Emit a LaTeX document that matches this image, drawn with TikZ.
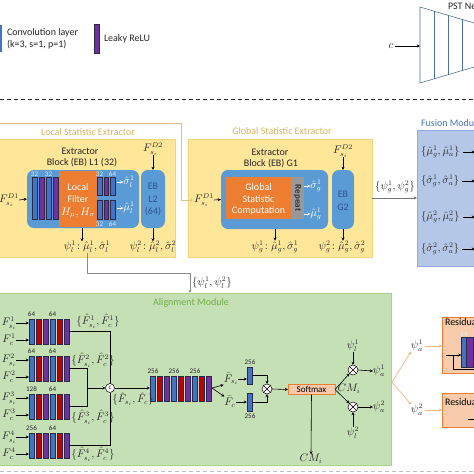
\documentclass[tikz,border=0pt]{standalone}
\usepackage{fontspec}
\setmainfont{Carlito}
\usetikzlibrary{arrows.meta,calc}
\definecolor{ylw}{HTML}{FFE699}
\definecolor{ylwborder}{HTML}{F2D27A}
\definecolor{ylwtitle}{HTML}{D9B35E}
\definecolor{ylwline}{HTML}{DDBF80}
\definecolor{ebblue}{HTML}{5B9BD5}
\definecolor{ebtxt}{HTML}{2E5395}
\definecolor{barB}{HTML}{4472C4}
\definecolor{barP}{HTML}{7030A0}
\definecolor{barR}{HTML}{C00000}
\definecolor{barline}{HTML}{2A2A4A}
\definecolor{corange}{HTML}{ED7D31}
\definecolor{lorange}{HTML}{F8CBAD}
\definecolor{lorline}{HTML}{F4B183}
\definecolor{fusfill}{HTML}{B4C7E7}
\definecolor{fusline}{HTML}{8FAADC}
\definecolor{fustitle}{HTML}{4472C4}
\definecolor{grnfill}{HTML}{C5E0B4}
\definecolor{grnline}{HTML}{A9D18E}
\definecolor{grntitle}{HTML}{70AD47}
\definecolor{txt}{HTML}{262626}
\definecolor{pstline}{HTML}{4F6FA8}
\definecolor{lighttxt}{HTML}{DDEBF7}
\newcommand{\myfs}[1]{\fontsize{#1}{#1}\selectfont}
\newcommand{\convrow}[3]{%
  \foreach \c [count=\k from 0] in {B,R,P,B,R,P}{%
    \draw[fill=bar\c, draw=barline, line width=0.4pt] ({#1+7*\k},#2) rectangle ++(5,#3);}}
\begin{document}
\begin{tikzpicture}[x=1pt,y=-1pt,
  every node/.style={inner sep=0pt,outer sep=0pt,text=txt,font=\myfs{10}},
  mth/.style={font=\myfs{10.5}},
  tip/.style={-{Stealth[length=3.2pt,width=3pt]}},
  conn/.style={draw=black,line width=0.6pt,tip},
  wconn/.style={draw=white,line width=0.6pt,tip},
  ylwbox/.style={fill=ylw,draw=ylwborder,line width=0.5pt},
  ebbox/.style={fill=ebblue,rounded corners=7pt},
  orbox/.style={fill=corange},
  small/.style={font=\myfs{7}},
  otimes/.style={circle,draw=black,fill=white,line width=0.5pt,minimum size=10pt,
    path picture={\draw[line width=0.5pt] (path picture bounding box.north west)--(path picture bounding box.south east)
      (path picture bounding box.north east)--(path picture bounding box.south west);}},
  bluebar/.style={fill=barB,draw=barline,line width=0.4pt}
]
\useasboundingbox (0,0) rectangle (474,474);
\clip (0,0) rectangle (474,474);

% ---------------- legend
\fill[barB] (-1,25) rectangle (2,52);
\node[anchor=west] (convl) at (7,33) {Convolution layer};
\node[anchor=west] (convp) at (7,45) {(k=3, s=1, p=1)};
\draw[fill=barP,draw=barline,line width=0.4pt] (94,24) rectangle (99,53);
\node[anchor=west] (relu) at (104,39) {Leaky ReLU};

% ---------------- PST network
\draw[pstline,line width=0.6pt] (500,30.7) -- (420,7) -- (420,83) -- (500,59.3);
\draw[pstline,line width=0.6pt] (434,11.1) -- (434,78.9) (448,15.3) -- (448,74.7) (462,19.4) -- (462,70.6);
\node[anchor=west] (pst) at (448,6) {PST Network};
\node[mth] (c) at (391,46) {$c$};
\coordinate (pstin) at (420,46);
\draw[conn] (c.east) ++(2,0) -- (pstin);

% separators
\draw[black!85,line width=0.8pt,dash pattern=on 4pt off 3pt] (0,99.5) -- (474,99.5);
\draw[black!25,line width=1.3pt,dash pattern=on 4pt off 3pt] (0,471.5) -- (474,471.5);

% ---------------- Local statistic extractor
\node[text=ylwtitle] (ltitle) at (88,132) {Local Statistic Extractor};
\node[ylwbox,anchor=north west,minimum width=178pt,minimum height=118pt] (lbox) at (-3,139) {};
\node (lext) at (80,151) {Extractor};
\node (lblk) at (82,163) {Block (EB) L1 (32)};
\node[ebbox,minimum width=112pt,minimum height=58pt] (eb1) at (83,199) {};
\foreach \x/\c in {32/B,39/P,46/B,53/P}{\draw[fill=bar\c,draw=barline,line width=0.4pt] (\x,177.5) rectangle ++(5,42);}
\node[small,text=lighttxt] (l32a) at (34.5,174) {32};
\node[small,text=lighttxt] (l32b) at (48.5,174) {32};
\node[orbox,minimum width=38pt,minimum height=56pt] (lf) at (78,199) {};
\node[text=white] (lf1) at (78,187) {Local};
\node[text=white] (lf2) at (78,199) {Filter};
\node[text=white,mth] (lf3) at (78,213) {$H_\mu, H_\sigma$};
\foreach \y/\h in {177.5/18,200/19}{
  \draw[bluebar] (97,\y) rectangle ++(5,\h);
  \draw[fill=barP,draw=barline,line width=0.4pt] (104,\y) rectangle ++(4,\h);
  \draw[bluebar] (110,\y) rectangle ++(5,\h);}
\node[small,text=lighttxt] (l32c) at (99.5,174) {32};
\node[small,text=lighttxt] (l64c) at (112.5,174) {64};
\node[small,text=lighttxt] (l32d) at (99.5,224) {32};
\node[small,text=lighttxt] (l64d) at (112.5,224) {64};
\node[text=white,mth] (sl1) at (129,182) {$\hat\sigma_l^1$};
\node[text=white,mth] (ml1) at (129,208) {$\hat\mu_l^1$};
\draw[wconn] (116.5,182) -- (sl1.west);
\draw[wconn] (116.5,208) -- (ml1.west);
\node[ebbox,minimum width=24pt,minimum height=58pt] (eb2) at (153,199) {};
\node[text=ebtxt] (eb2a) at (153,186) {EB};
\node[text=ebtxt] (eb2b) at (153,199) {L2};
\node[text=ebtxt] (eb2c) at (153,212) {(64)};
\node[mth] (lFd1) at (9,200) {$F_{s_i}^{D1}$};
\draw[conn] (lFd1.east) -- (eb1.west);
\node[mth] (lFd2) at (153,149) {$F_{s_i}^{D2}$};
\draw[conn] (lFd2.south) -- (eb2.north);
\node[mth] (psil1) at (87,247) {$\psi_l^1\!:\hat\mu_l^1,\hat\sigma_l^1$};
\node[mth] (psil2) at (153,247) {$\psi_l^2\!:\hat\mu_l^2,\hat\sigma_l^2$};
\draw[conn] (eb1.south -| psil1.north) ++(-5,0) coordinate (e1s) -- (e1s |- psil1.north);
\draw[conn] (eb2.south) -- (eb2.south |- psil2.north);

% ---------------- Global statistic extractor
\node[text=ylwtitle] (gtitle) at (282,131) {Global Statistic Extractor};
\node[ylwbox,anchor=north west,minimum width=184pt,minimum height=118pt] (gbox) at (188,139) {};
\node (gext) at (270,152) {Extractor};
\node (gblk) at (271,164) {Block (EB) G1};
\node[ebbox,minimum width=107pt,minimum height=59pt] (geb1) at (274.5,199.5) {};
\node[orbox,minimum width=65pt,minimum height=42pt] (gsc) at (258.5,198) {};
\node[text=white] (gsc1) at (258.5,187) {Global};
\node[text=white] (gsc2) at (258.5,199) {Statistic};
\node[text=white] (gsc3) at (258.5,211) {Computation};
\node[fill=black!40,minimum width=13pt,minimum height=42pt] (rep) at (297.5,198) {};
\node[rotate=-90,font=\myfs{9}\bfseries,text=black!80] (rept) at (297.5,198) {Repeat};
\node[text=white,mth] (sg1) at (316,186) {$\hat\sigma_g^1$};
\node[text=white,mth] (mg1) at (316,214) {$\hat\mu_g^1$};
\draw[wconn] (rep.east |- sg1) -- (sg1.west);
\draw[wconn] (rep.east |- mg1) -- (mg1.west);
\node[ebbox,minimum width=22pt,minimum height=59pt] (geb2) at (343,199.5) {};
\node[text=ebtxt] (geb2a) at (343,194) {EB};
\node[text=ebtxt] (geb2b) at (343,207) {G2};
\node[mth] (gFd1) at (204,200) {$F_{s_i}^{D1}$};
\draw[conn] (gFd1.east) -- (geb1.west);
\node[mth] (gFd2) at (343,151) {$F_{s_i}^{D2}$};
\draw[conn] (gFd2.south) -- (geb2.north);
\node[mth] (psig1) at (275,247) {$\psi_g^1\!:\hat\mu_g^1,\hat\sigma_g^1$};
\node[mth] (psig2) at (342,247) {$\psi_g^2\!:\hat\mu_g^2,\hat\sigma_g^2$};
\draw[conn] (geb1.south -| psig1.north) -- (psig1.north);
\draw[conn] (geb2.south) -- (geb2.south |- psig2.north);

% frame + feed into global
\coordinate (fstart) at (-5,123);
\coordinate (fcorner) at (181,123);
\draw[ylwline,line width=0.8pt,-{Stealth[length=3pt,width=3pt]},shorten >=1pt] (fstart) -- (fcorner) |- (gFd1.west);

% ---------------- Fusion module
\node[fill=fusfill,draw=fusline,line width=0.6pt,anchor=north west,minimum width=70pt,minimum height=136pt] (fusion) at (417,130) {};
\node[anchor=west,text=fustitle] (ftitle) at (421,123) {Fusion Module};
\foreach \y/\t [count=\n] in {152/{\{\hat\mu_g^1,\hat\mu_a^1\}},181/{\{\hat\sigma_g^1,\hat\sigma_a^1\}},217/{\{\hat\mu_g^2,\hat\mu_a^2\}},249/{\{\hat\sigma_g^2,\hat\sigma_a^2\}}}{
  \node[anchor=west,mth] (fu\n) at (421,\y) {$\t$};
  \coordinate (fo\n) at (475,\y);
  \draw[conn] (fu\n.east) ++(3,0) -- (fo\n);}
\draw[draw=black!55,line width=0.6pt,tip] (gbox.east) -- (gbox.east -| fusion.west);
\node[mth] (psigset) at (395,187) {$\{\psi_g^1,\psi_g^2\}$};

% ---------------- Alignment module
\node[fill=grnfill,draw=grnline,line width=0.8pt,anchor=north west,minimum width=394pt,minimum height=172pt] (align) at (-3,293) {};
\node[text=grntitle] (atitle) at (191,303) {Alignment Module};
% psi_l connection
\coordinate (lbend) at (190,273);
\draw[draw=black!45,line width=0.6pt,tip] (psil1.south) |- (lbend) -- (lbend |- align.north);
\node[anchor=west,mth] (psilset) at (192,283) {$\{\psi_l^1,\psi_l^2\}$};

% rows
\foreach \yt/\n/\a/\b in {319/1/64/64,356/2/64/64,394/3/128/64,433/4/256/64}{
  \convrow{29}{\yt}{25}
  \node[small] (ra\n) at (31.5,\yt-5) {\a};
  \node[small] (rb\n) at (52.5,\yt-5) {\b};
  \node[mth] (fs\n) at (9,\yt+4) {$F_{s_i}^{\n}$};
  \node[mth] (fc\n) at (9,\yt+21) {$F_{c}^{\n}$};
  \draw[conn] (fs\n.east) -- (29,\yt+4);
  \draw[conn] (fc\n.east) -- (29,\yt+21);
  \coordinate (ro\n) at (69,\yt+12.5);
}
\node[circle,draw=black,fill=white,line width=0.5pt,minimum size=9pt,font=\myfs{7}] (cat) at (110,388) {c};
\coordinate (j23) at (87,388);
\draw[line width=0.6pt] (ro1) -| (cat.north) ;
\draw[line width=0.6pt] (ro4) -| (cat.south);
\draw[line width=0.6pt] (ro2) -| (j23);
\draw[line width=0.6pt] (ro3) -| (j23);
\draw[conn] (j23) -- (cat.west);
\node[mth] (fh1) at (98,321) {$\{\hat F_{s_i}^1,\hat F_c^1\}$};
\node[mth] (fh2) at (93,360) {$\{\hat F_{s_i}^2,\hat F_c^2\}$};
\node[mth] (fh3) at (93,417) {$\{\hat F_{s_i}^3,\hat F_c^3\}$};
\node[mth] (fh4) at (93,454) {$\{\hat F_{s_i}^4,\hat F_c^4\}$};

% big stack
\foreach \c [count=\k from 0] in {B,R,P,B,R,P,B,R,P}{
  \draw[fill=bar\c,draw=barline,line width=0.4pt] ({150+7*\k},376) rectangle ++(5,25);}
\coordinate (bigin) at (150,388);
\coordinate (bigout) at (212,388);
\draw[conn] (cat.east) -- (bigin);
\node[mth] (fhat) at (133,399) {$\{\hat F_{s_i},\hat F_c\}$};
\foreach \x in {153,174,195}{\node[small] at (\x,371) {256};}
\node[mth] (fbs) at (231,379) {$\bar F_{s_i}$};
\node[mth] (fbc) at (230,402) {$\bar F_c$};
\draw[conn] (bigout) -- (fbs.south west);
\draw[conn] (bigout) -- (fbc.north west);
\node[bluebar,minimum width=5pt,minimum height=17pt] (sb1) at (249.5,375.5) {};
\node[bluebar,minimum width=5pt,minimum height=18pt] (sb2) at (249.5,402) {};
\node[small] (sb1l) at (250,362) {256};
\node[small] (sb2l) at (250,416) {256};
\draw[conn] (fbs.east) -- (fbs.east -| sb1.west);
\draw[conn] (fbc.east) -- (fbc.east -| sb2.west);
\node[otimes] (ot0) at (267,389) {};
\draw[conn] (sb1.east) -| (ot0.north);
\draw[conn] (sb2.east) -| (ot0.south);
\node[draw=corange,fill=lorange,line width=0.6pt,minimum width=47pt,minimum height=10pt,font=\myfs{9},text=black] (soft) at (311.5,389.5) {Softmax};
\draw[conn] (ot0.east) -- (soft.west);
\node[mth] (cmi) at (311,459) {$CM_i$};
\draw[conn] (soft.south) -- (cmi.north);
\node[otimes] (ot1) at (353,370) {};
\node[otimes] (ot2) at (353,407) {};
\draw[conn] (soft.east) -- (ot1.south west);
\draw[conn] (soft.east) -- (ot2.north west);
\node[mth] (cmi2) at (349,389) {$CM_i$};
\node[mth] (pl1) at (353,346) {$\psi_l^1$};
\node[mth] (pl2) at (353,433) {$\psi_l^2$};
\draw[conn] (pl1.south) -- (ot1.north);
\draw[conn] (pl2.north) -- (ot2.south);
\node[mth] (pa1) at (379,371) {$\psi_a^1$};
\node[mth] (pa2) at (379,407) {$\psi_a^2$};
\draw[conn] (ot1.east) -- (pa1.west);
\draw[conn] (ot2.east) -- (pa2.west);

% ---------------- outputs to residual blocks
\coordinate (split) at (392,382);
\node[mth] (po1) at (417,346) {$\psi_a^1$};
\node[mth] (po2) at (417,410) {$\psi_a^2$};
\draw[lorline,line width=0.7pt,tip] (split) -- (po1.south west);
\draw[lorline,line width=0.7pt,tip] (split) -- (po2.north west);
\node[draw=corange,fill=lorange,line width=0.6pt,anchor=north west,minimum width=60pt,minimum height=56pt] (res1) at (442,317) {};
\node[draw=corange,fill=lorange,line width=0.6pt,anchor=north west,minimum width=60pt,minimum height=34pt] (res2) at (442,393) {};
\draw[lorline,line width=0.7pt,tip] (po1.east) ++(2,0) -- (po1.east -| res1.west);
\draw[lorline,line width=0.7pt,tip] (po2.east) ++(2,0) -- (po2.east -| res2.west);
\node[anchor=west,text=black] (res1t) at (445,322) {Residual Block};
\node[anchor=west,text=black] (res2t) at (445,402) {Residual Block};
\draw[bluebar] (461.5,337) rectangle (466,367);
\draw[fill=barP,draw=barline,line width=0.4pt] (466.5,337) rectangle (473,367);
\node[small,text=lighttxt] (r64) at (464,334) {64};
\coordinate (rin) at (446,355);
\coordinate (rbr) at (453,355);
\coordinate (rbar) at (461.5,355);
\coordinate (rskip) at (476,369);
\draw[conn] (rin) -- (rbar);
\draw[line width=0.6pt] (rbr) |- (rskip);
\draw[line width=0.6pt] (468,419) -- (476,419);
\end{tikzpicture}
\end{document}
